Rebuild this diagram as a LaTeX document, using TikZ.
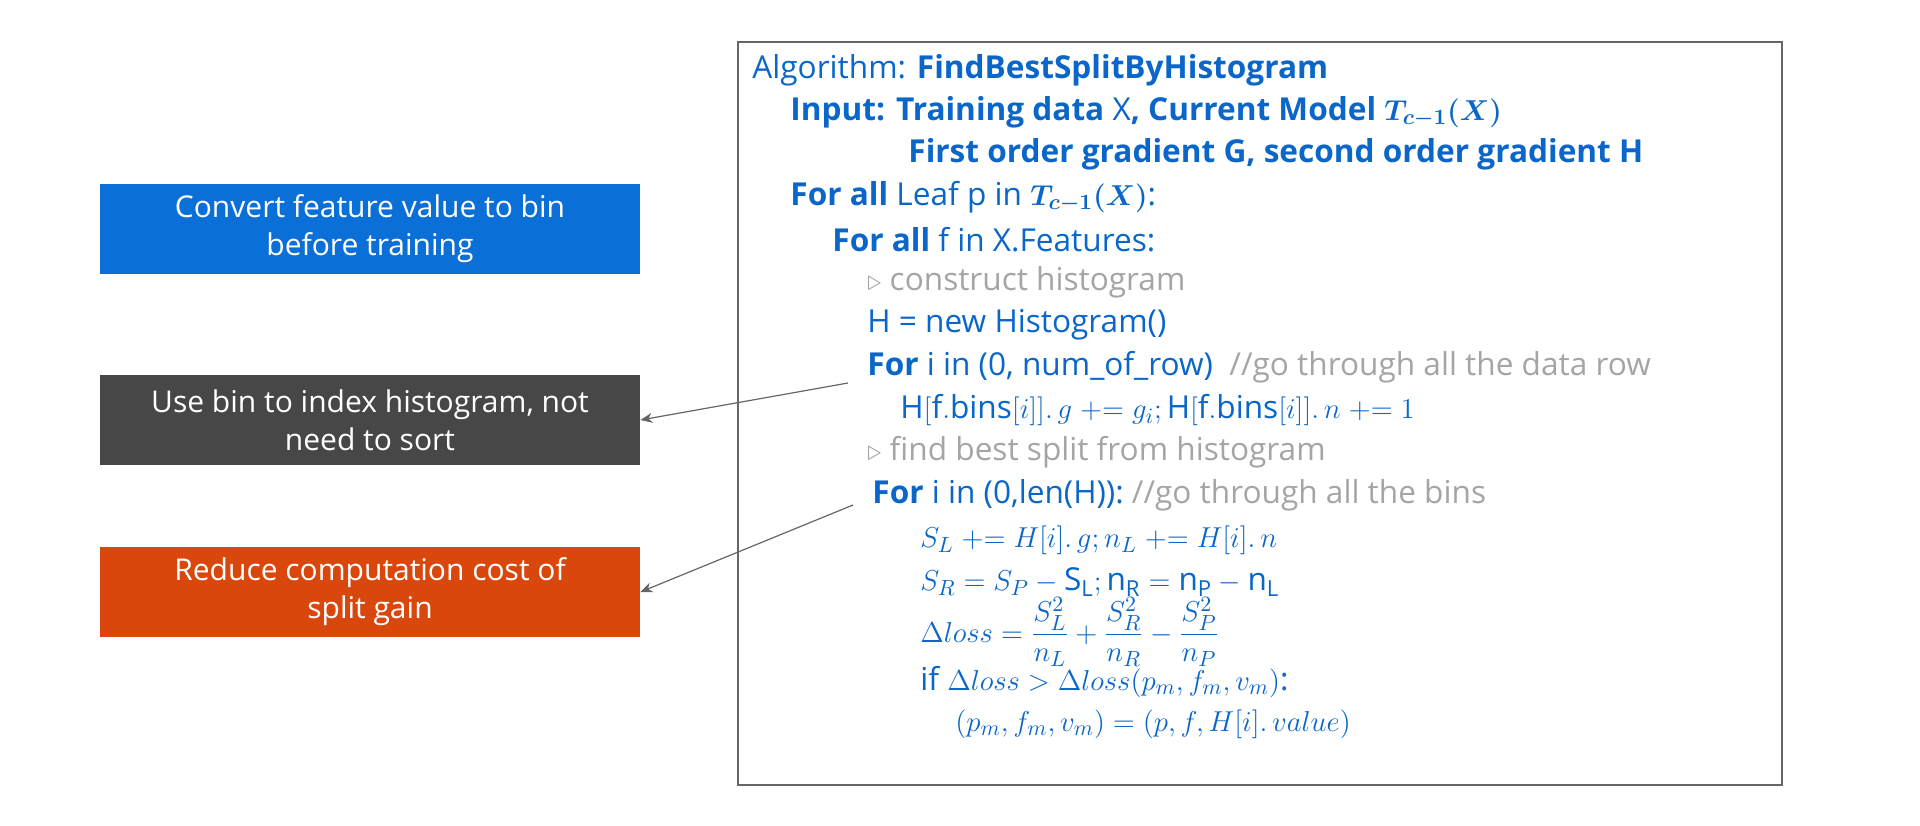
\documentclass[tikz,border=0pt]{standalone}
\usepackage{amsmath}
\usepackage{fontspec}
\setmainfont{Open Sans}
\usetikzlibrary{arrows.meta}
\definecolor{algblue}{HTML}{0A66C8}
\definecolor{cgray}{HTML}{A5A5A5}
\definecolor{bxblue}{HTML}{0B6FD8}
\definecolor{bxgray}{HTML}{474747}
\definecolor{bxorange}{HTML}{DA470C}
\begin{document}
\begin{tikzpicture}[x=0.5pt,y=-0.5pt,
  t/.style={anchor=west,inner sep=0pt,text=algblue,font=\fontsize{15.8}{17}\selectfont},
  g/.style={t,text=cgray},
  lab/.style={minimum width=270pt,minimum height=45pt,text=white,align=center,inner sep=2pt,font=\fontsize{15}{19}\selectfont},
  arr/.style={draw=gray!80!black,line width=0.6pt,-{Stealth[length=6pt,width=5pt]}}]
\useasboundingbox (0,0) rectangle (1920,825);
\fill[white] (0,0) rectangle (1920,825);
\draw[gray!80!black,line width=0.8pt] (738,42) rectangle (1782,785);
\node[t] (l1) at (752,70) {Algorithm: \textbf{FindBestSplitByHistogram}};
\node[t] (l2) at (790,112) {\textbf{Input: Training data} $\mathrm{X}$\textbf{, Current Model} $\boldsymbol{T_{c-1}(X)}$};
\node[t] (l3) at (908,154) {\textbf{First order gradient G, second order gradient H}};
\node[t] (l4) at (790,197) {\textbf{For all} Leaf p in $\boldsymbol{T_{c-1}(X)}$:};
\node[t] (l5) at (832,240) {\textbf{For all} f in X.Features:};
\node[g] (l6) at (867,282) {$\triangleright$ construct histogram};
\node[t] (l7) at (867,325) {H = new Histogram()};
\node[t] (l8) at (867,367) {\textbf{For} i in (0, num\_of\_row) \ \textcolor{cgray}{//go through all the data row}};
\node[t] (l9) at (900,410) {$\mathrm{H[f.bins}[i]].\,g \mathrel{+}= g_i; \mathrm{H[f.bins}[i]].\,n \mathrel{+}= 1$};
\node[g] (l10) at (867,452) {$\triangleright$ find best split from histogram};
\node[t] (l11) at (872,495) {\textbf{For} i in (0,len(H)): \textcolor{cgray}{//go through all the bins}};
\node[t] (l12) at (920,540) {$S_L \mathrel{+}= H[i].\,g; n_L \mathrel{+}= H[i].\,n$};
\node[t] (l13) at (920,582) {$S_R = S_P - \mathrm{S_L}; \mathrm{n_R} = \mathrm{n_P} - \mathrm{n_L}$};
\node[t] (l14) at (920,632) {$\Delta loss = \dfrac{S_L^2}{n_L} + \dfrac{S_R^2}{n_R} - \dfrac{S_P^2}{n_P}$};
\node[t] (l15) at (920,682) {if $\Delta loss > \Delta loss(p_m, f_m, v_m)$:};
\node[t] (l16) at (955,724) {$(p_m, f_m, v_m) = (p, f, H[i].\,value)$};
\node[lab,fill=bxblue] (b1) at (370,229) {Convert feature value to bin\\before training};
\node[lab,fill=bxgray] (b2) at (370,420) {Use bin to index histogram, not\\need to sort};
\node[lab,fill=bxorange] (b3) at (370,592) {Reduce computation cost of\\split gain};
\coordinate (a1) at (848,383);
\coordinate (a2) at (853,505);
\draw[arr] (a1) -- (b2.east);
\draw[arr] (a2) -- (b3.east);
\end{tikzpicture}
\end{document}
